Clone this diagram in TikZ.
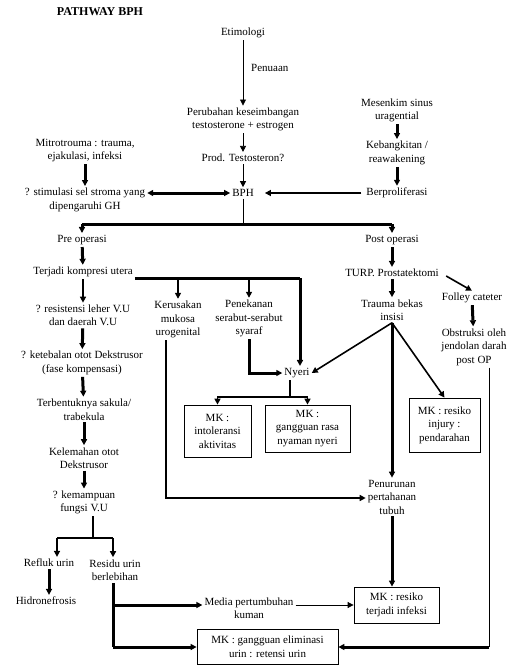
\documentclass[tikz,border=0pt]{standalone}
\usepackage{fontspec}
\setmainfont{Liberation Serif}
\usetikzlibrary{arrows.meta,calc}
\tikzset{
  txt/.style={inner sep=2pt, align=center, font=\fontsize{11}{13.5}\selectfont},
  mkbox/.style={draw, line width=0.8pt, inner sep=0pt, align=center, font=\fontsize{11}{13.5}\selectfont},
  lnA/.style={line width=0.8pt},
  lnB/.style={line width=1.6pt},
  lnC/.style={line width=3pt},
  tip/.style={-{Triangle[length=6pt,width=6pt]}},
  tipboth/.style={{Triangle[length=6pt,width=6pt]}-{Triangle[length=6pt,width=6pt]}}
}
\begin{document}
\begin{tikzpicture}[x=1pt,y=-1pt]
\useasboundingbox (0,0) rectangle (520,666);
\fill[white] (0,0) rectangle (520,666);
% title
\node[inner sep=0pt, font=\fontsize{12}{14}\selectfont\bfseries] (title) at (100,12) {PATHWAY BPH};
% nodes
\node[txt] (etim) at (243,33) {Etimologi};
\node[txt, anchor=west] (penuaan) at (249,68) {Penuaan};
\node[txt] (perub) at (243,119.5) {Perubahan keseimbangan\\testosterone + estrogen};
\node[txt] (prod) at (243,158) {Prod. Testosteron?};
\node[txt] (bph) at (243,193) {BPH};
\node[txt] (mesen) at (397,110.5) {Mesenkim sinus\\uragential};
\node[txt] (kebang) at (397,153) {Kebangkitan /\\reawakening};
\node[txt] (berpro) at (397,193) {Berproliferasi};
\node[txt] (mitro) at (85,150.5) {Mitrotrouma : trauma,\\ejakulasi, infeksi};
\node[txt] (stim) at (85,200) {? stimulasi sel stroma yang\\dipengaruhi GH};
\node[txt] (pre) at (82,240) {Pre operasi};
\node[txt] (post) at (392,240) {Post operasi};
\node[txt] (turp) at (392,273) {TURP. Prostatektomi};
\node[txt] (trauma) at (392,310) {Trauma bekas\\insisi};
\node[txt] (folley) at (472,298) {Folley cateter};
\node[txt] (obstr) at (474,347) {Obstruksi oleh\\jendolan darah\\post OP};
\node[txt] (terjadi) at (83,272) {Terjadi kompresi utera};
\node[txt] (resist) at (83,315.5) {? resistensi leher V.U\\dan daerah V.U};
\node[txt] (keru) at (178,319.5) {Kerusakan\\mukosa\\urogenital};
\node[txt] (pene) at (249,318.5) {Penekanan\\serabut-serabut\\syaraf};
\node[txt] (nyeri) at (297,373) {Nyeri};
\node[mkbox, minimum width=67pt, minimum height=52pt] (mkint) at (217.5,431) {MK :\\intoleransi\\aktivitas};
\node[mkbox, minimum width=85pt, minimum height=47pt] (mkgang) at (307.5,428.5) {MK :\\gangguan rasa\\nyaman nyeri};
\node[mkbox, minimum width=71pt, minimum height=54pt] (mkinj) at (444.5,425) {MK : resiko\\injury :\\pendarahan};
\node[txt] (keteb) at (82,363) {? ketebalan otot Dekstrusor\\(fase kompensasi)};
\node[txt] (terbent) at (84,409.5) {Terbentuknya sakula/\\trabekula};
\node[txt] (kelem) at (84,458) {Kelemahan otot\\Dekstrusor};
\node[txt] (kemamp) at (84,502.5) {? kemampuan\\fungsi V.U};
\node[txt] (refluk) at (49,563) {Refluk urin};
\node[txt] (residu) at (115,570) {Residu urin\\berlebihan};
\node[txt] (hidro) at (46,601) {Hidronefrosis};
\node[txt] (media) at (249,608) {Media pertumbuhan\\kuman};
\node[txt] (penur) at (392,497) {Penurunan\\pertahanan\\tubuh};
\node[mkbox, minimum width=85pt, minimum height=36pt] (mkinf) at (396.5,605) {MK : resiko\\terjadi infeksi};
\node[mkbox, minimum width=141pt, minimum height=35pt] (mkelim) at (267.5,647) {MK : gangguan eliminasi\\urin : retensi urin};
% coordinates
\coordinate (split1) at (243,224);
\coordinate (kc) at (300,278);
\coordinate (kd) at (166,498);
\coordinate (pc) at (249,373);
\coordinate (nc) at (290,397);
\coordinate (kmc) at (93,538);
\coordinate (ra) at (57,538);
\coordinate (rb) at (113,538);
\coordinate (rv) at (113,605);
\coordinate (rw) at (113,647);
\coordinate (oc) at (489,647);
% connectors top
\draw[lnA,tip] (etim) -- (perub);
\draw[lnA,tip] (perub) -- (prod);
\draw[lnA,tip] (prod) -- (bph);
\draw[lnC,tip] (mesen) -- (kebang);
\draw[lnC,tip] (kebang) -- (berpro);
\draw[lnB,tip,shorten <=3pt,shorten >=9pt] (berpro.west) -- (bph.east);
\draw[lnC,tip] (mitro) -- (stim);
\draw[lnC,tipboth] (stim.east |- bph.west) -- (bph.west);
% BPH split
\draw[lnA] (bph) -- (split1);
\draw[lnC] (pre.north |- split1) -- (post.north |- split1);
\draw[lnC,tip] (pre.north |- split1) -- (pre.north);
\draw[lnC,tip] (post.north |- split1) -- (post.north);
% post branch
\draw[lnC,tip] (post) -- (turp);
\draw[lnC,tip] (turp) -- (trauma);
\draw[lnB,tip,shorten <=6pt] (turp.east) -- (folley.north);
\draw[lnC,tip] (folley) -- (obstr);
\draw[lnA] (obstr.south -| oc) -- (oc);
\draw[lnC,tip] (oc) -- (mkelim.east);
\draw[lnB,tip] (trauma.south) -- (nyeri.east);
\draw[lnC,tip] (trauma.south) -- (penur.north);
\draw[lnB,tip] (trauma.south) -- (mkinj.north);
% pre branch
\draw[lnC,tip] (pre) -- (terjadi);
\draw[lnB,tip] (terjadi) -- (resist);
\draw[lnC] (terjadi.east |- kc) -- (kc);
\draw[lnC,tip] (kc) -- (kc |- nyeri.north);
\draw[lnB,tip] (keru.north |- kc) -- (keru.north);
\draw[lnB,tip] (pene.north |- kc) -- (pene.north);
\draw[lnB,tip] (keru.south -| kd) -- (kd) -- (penur.west |- kd);
\draw[lnC,tip] (pene.south) -- (pc) -- (nyeri.west);
\draw[lnB] (nyeri.south -| nc) -- (nc);
\draw[lnB,tip] (nc) -| (mkint.north);
\draw[lnB,tip] (nc) -| (mkgang.north);
% left column
\draw[lnC,tip] (resist) -- (keteb);
\draw[lnC,tip] (keteb) -- (terbent);
\draw[lnC,tip] (terbent) -- (kelem);
\draw[lnC,tip] (kelem) -- (kemamp);
\draw[lnB] (kemamp.south -| kmc) -- (kmc);
\draw[lnB] (ra) -- (rb);
\draw[lnB,tip] (ra) -- (ra |- refluk.north);
\draw[lnB,tip] (rb) -- (rb |- residu.north);
\draw[lnC,tip] (refluk.south) -- (refluk.south |- hidro.north);
\draw[lnC] (residu.south -| rv) -- (rw);
\draw[lnC,tip] (rv) -- (media.west |- rv);
\draw[lnC,tip] (rw) -- (mkelim.west);
\draw[lnA,tip] (media.east |- mkinf.west) -- (mkinf.west);
\draw[lnC,tip] (penur.south) -- (penur.south |- mkinf.north);
\end{tikzpicture}
\end{document}
